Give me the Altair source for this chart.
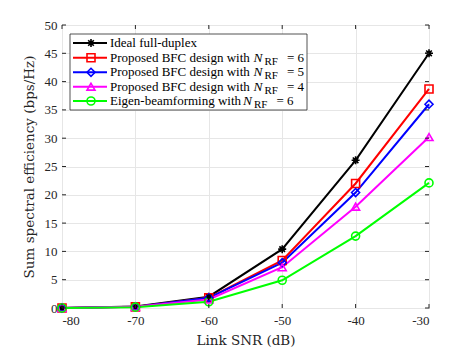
import altair as alt
import pandas as pd

# ---------------- data ----------------
snr = [-80, -70, -60, -50, -40, -30]
ideal = [0.0, 0.25, 2.0, 10.4, 26.1, 45.0]
bfc6 = [0.0, 0.2, 1.8, 8.4, 22.0, 38.7]
bfc5 = [0.0, 0.2, 1.8, 8.0, 20.4, 36.0]
bfc4 = [0.0, 0.2, 1.5, 7.2, 17.9, 30.2]
eigen = [0.0, 0.15, 1.1, 4.9, 12.7, 22.1]

series_names = ["ideal", "bfc6", "bfc5", "bfc4", "eigen"]
series_vals = [ideal, bfc6, bfc5, bfc4, eigen]
legend_main = ["Ideal full-duplex", "Proposed BFC design with", "Proposed BFC design with",
               "Proposed BFC design with", "Eigen-beamforming with"]
legend_nrf = ["", "= 6", "= 5", "= 4", "= 6"]

x_ticks = [-80, -70, -60, -50, -40, -30]
y_ticks = [0, 5, 10, 15, 20, 25, 30, 35, 40, 45, 50]

colors = ["#000000", "#ff0000", "#0000ff", "#ff00ff", "#00ff00"]
asterisk = "M0,-1L0,1M-1,0L1,0M-0.7,-0.7L0.7,0.7M-0.7,0.7L0.7,-0.7"
shapes = [asterisk, "square", "diamond", "triangle-up", "circle"]

rows = []
for name, vals in zip(series_names, series_vals):
    for s, v in zip(snr, vals):
        rows.append({"series": name, "snr": s, "se": v})
df = pd.DataFrame(rows)

W, H = 367, 283
FONT = "Liberation Serif"
TFONT = "DejaVu Serif"

color_scale = alt.Scale(domain=series_names, range=colors)
shape_scale = alt.Scale(domain=series_names, range=shapes)

xs = alt.Scale(domain=[-80, -30], nice=False, zero=False)
ys = alt.Scale(domain=[0, 50], nice=False, zero=False)

x_axis = alt.Axis(
    values=x_ticks, tickCount=6, title="Link SNR (dB)", labelExpr="'' + datum.value",
    grid=True, ticks=False, tickSize=0, domain=False, labelPadding=6,
    titlePadding=6, labelOverlap=False, labelFont=FONT, labelFontSize=13,
    titleFont=TFONT, titleFontSize=13.5)
y_axis = alt.Axis(
    values=y_ticks, tickCount=11, title="Sum spectral efficiency (bps/Hz)",
    grid=True, ticks=False, tickSize=0, domain=False, labelPadding=5,
    titlePadding=8, labelOverlap=False, labelFont=FONT, labelFontSize=13,
    titleFont=TFONT, titleFontSize=13.5)

def xe(field="snr"):
    return alt.X(f"{field}:Q", scale=xs, axis=x_axis)

def ye(field="se"):
    return alt.Y(f"{field}:Q", scale=ys, axis=y_axis)

base = alt.Chart(df)
lines = base.mark_line(strokeWidth=2).encode(
    x=xe(), y=ye(),
    color=alt.Color("series:N", scale=color_scale, legend=None),
    order=alt.Order("snr:Q"),
)
points = base.mark_point(filled=False, strokeWidth=1.6, size=64, opacity=1).encode(
    x=xe(), y=ye(),
    color=alt.Color("series:N", scale=color_scale, legend=None),
    shape=alt.Shape("series:N", scale=shape_scale, legend=None),
)
black_fill = base.transform_filter(alt.datum.series == "ideal").mark_point(
    filled=True, shape="circle", size=22, color="#000000", opacity=1
).encode(x=xe(), y=ye())

# inward ticks on all four sides
xt = pd.DataFrame({"snr": x_ticks})
yt = pd.DataFrame({"se": y_ticks})
tick_col = "#262626"
tb = alt.Chart(xt).mark_rule(color=tick_col, strokeWidth=1).encode(
    x=xe(), y=alt.value(H), y2=alt.value(H - 4))
tt = alt.Chart(xt).mark_rule(color=tick_col, strokeWidth=1).encode(
    x=xe(), y=alt.value(0), y2=alt.value(4))
tl = alt.Chart(yt).mark_rule(color=tick_col, strokeWidth=1).encode(
    y=ye(), x=alt.value(0), x2=alt.value(4))
tr = alt.Chart(yt).mark_rule(color=tick_col, strokeWidth=1).encode(
    y=ye(), x=alt.value(W), x2=alt.value(W - 4))

main = alt.layer(lines, points, black_fill, tb, tt, tl, tr)

# ---------------- custom legend ----------------
row_y = [18, 32.7, 47.3, 61.7, 76]
n_x = [0, 191.5, 191.5, 191.5, 181]
leg = pd.DataFrame({
    "series": series_names,
    "main": legend_main,
    "nrf": legend_nrf,
    "ly": row_y,
    "nx": n_x,
    "rfx": [v + 11 for v in n_x],
    "eqx": [v + 33.5 for v in n_x],
    "x1": [11] * 5, "x2": [45] * 5, "mx": [29] * 5, "tx": [48] * 5,
})
leg_sub = leg[leg["nrf"] != ""]

box = alt.Chart(pd.DataFrame({"a": [0]})).mark_rect(
    fill="white", stroke="#262626", strokeWidth=0.8).encode(
    x=alt.value(8), x2=alt.value(245), y=alt.value(9), y2=alt.value(85))

lchart = alt.Chart(leg)
lx = lambda f: alt.X(f, scale=None, axis=None)
ly = alt.Y("ly:Q", scale=None, axis=None)
leg_lines = lchart.mark_rule(strokeWidth=2).encode(
    x=lx("x1:Q"), x2="x2:Q", y=ly,
    color=alt.Color("series:N", scale=color_scale, legend=None))
leg_pts = lchart.mark_point(filled=False, strokeWidth=1.6, size=64, opacity=1).encode(
    x=lx("mx:Q"), y=ly,
    color=alt.Color("series:N", scale=color_scale, legend=None),
    shape=alt.Shape("series:N", scale=shape_scale, legend=None))
leg_fill = lchart.transform_filter(alt.datum.series == "ideal").mark_point(
    filled=True, shape="circle", size=22, color="#000000", opacity=1).encode(
    x=lx("mx:Q"), y=ly)
leg_text = lchart.mark_text(align="left", baseline="middle", font=FONT,
                            fontSize=13, color="#000000").encode(
    x=lx("tx:Q"), y=ly, text="main:N")
sub_chart = alt.Chart(leg_sub)
leg_n = sub_chart.mark_text(align="left", baseline="middle", font=FONT,
                            fontSize=13.5, fontStyle="italic", color="#000000").encode(
    x=lx("nx:Q"), y=ly, text=alt.value("N"))
leg_rf = sub_chart.mark_text(align="left", baseline="middle", font=FONT,
                             fontSize=11, dy=4, color="#000000").encode(
    x=lx("rfx:Q"), y=ly, text=alt.value("RF"))
leg_eq = sub_chart.mark_text(align="left", baseline="middle", font=FONT,
                             fontSize=13, color="#000000").encode(
    x=lx("eqx:Q"), y=ly, text="nrf:N")

legend = alt.layer(box, leg_lines, leg_pts, leg_fill, leg_text, leg_n, leg_rf, leg_eq)

chart = alt.layer(main, legend).resolve_scale(
    x="independent", y="independent", color="shared", shape="shared"
).properties(
    width=W, height=H,
    autosize=alt.AutoSizeParams(type="none"),
    padding={"left": 62, "top": 25, "right": 45, "bottom": 41},
    background="white",
).configure_view(
    stroke="#262626", strokeWidth=1, fill="white"
).configure_axis(
    labelFont=FONT, labelFontSize=13, labelColor="#262626",
    titleFont=TFONT, titleFontSize=13.5, titleFontWeight="normal", titleColor="#262626",
    gridColor="#e6e6e6", gridWidth=1,
)

chart.save("out.html", embed_options={"renderer": "svg", "actions": False})
